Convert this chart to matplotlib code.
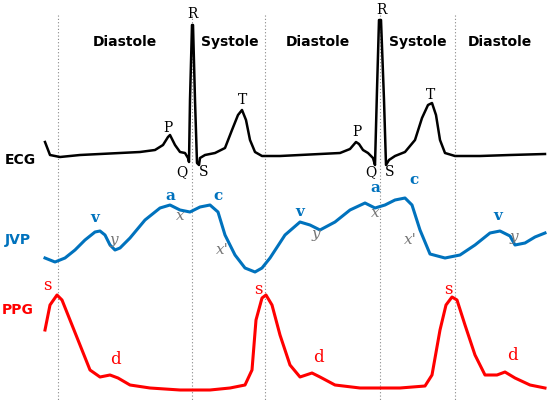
import matplotlib
matplotlib.use("Agg")
import matplotlib.pyplot as plt

# Waveform traces (x in px, y in px from top)
ecg_x = [45,50,60,80,100,120,140,155,163,168,170,175,180,185,188,189,190,192,193,195,197,199,200,205,215,225,232,238,242,246,250,255,262,280,300,320,340,350,356,359,363,368,373,375,377,379,381,384,386,389,395,405,415,422,428,432,436,440,445,455,480,510,545]
ecg_y = [142,155,157,155,154,153,152,150,145,137,135,145,152,153,158,162,100,25,25,100,163,165,158,155,153,148,130,115,110,120,140,152,156,156,155,154,153,149,142,144,150,153,158,165,90,20,20,100,165,160,156,152,140,118,105,103,115,140,153,156,156,155,154]
jvp_x = [45,55,65,75,85,95,100,105,110,115,120,130,145,160,170,180,190,200,210,218,225,235,245,255,262,270,285,300,310,320,335,350,365,375,385,395,405,412,420,430,445,460,475,490,500,510,515,525,535,545]
jvp_y = [258,262,258,250,240,232,231,235,245,250,248,238,220,208,205,210,212,207,205,212,235,255,268,272,268,258,235,222,225,230,222,210,203,208,205,200,198,205,230,254,258,255,245,233,231,236,245,243,237,233]
ppg_x = [45,50,57,62,70,80,90,100,110,118,130,150,180,210,230,245,252,256,262,266,272,280,290,300,312,320,335,360,400,425,432,440,446,452,457,465,475,485,497,505,515,530,545]
ppg_y = [330,305,295,300,320,345,370,377,375,378,385,388,390,390,388,385,370,320,298,295,305,335,365,377,373,377,385,388,388,386,375,330,305,297,300,325,355,375,375,372,378,385,388]

phase_lines = [58, 192, 265, 380, 455]
phases = ["Diastole", "Systole", "Diastole", "Systole", "Diastole"]
phase_x = [125, 230, 318, 418, 500]

ecg_labels = [("P",168,128),("Q",182,172),("R",192,14),("S",204,172),("T",243,100),
              ("P",357,132),("Q",371,172),("R",381,10),("S",390,172),("T",431,95)]
jvp_labels = [("v",95,218,"b"),("y",114,240,"g"),("a",170,196,"b"),("x",180,216,"g"),("c",218,196,"b"),("x'",222,250,"g"),
              ("v",300,212,"b"),("y",316,234,"g"),("a",375,188,"b"),("x",375,213,"g"),("c",414,180,"b"),("x'",410,240,"g"),
              ("v",498,216,"b"),("y",514,237,"g")]
ppg_labels = [("s",47,285),("d",115,360),("s",258,290),("d",318,358),("s",448,290),("d",512,356)]

BLUE = "#0072bd"; RED = "#ff0000"; GRAY = "#777777"

fig = plt.figure(figsize=(5.5,4.12), dpi=100)
ax = fig.add_axes([0,0,1,1])
ax.set_xlim(0,550); ax.set_ylim(412,0); ax.axis("off")

for x in phase_lines:
    ax.plot([x,x],[15,400], color="#888888", lw=0.8, ls=(0,(1,2)))
for t,x in zip(phases, phase_x):
    ax.text(x,42,t,ha="center",va="center",fontsize=10,fontweight="bold")

ax.plot(ecg_x, ecg_y, color="black", lw=1.8)
ax.plot(jvp_x, jvp_y, color=BLUE, lw=2.2)
ax.plot(ppg_x, ppg_y, color=RED, lw=2.2)

for t,x,y in ecg_labels:
    ax.text(x,y,t,ha="center",va="center",fontsize=10,family="DejaVu Serif")
for t,x,y,c in jvp_labels:
    if c=="b":
        ax.text(x,y,t,ha="center",va="center",fontsize=11,family="DejaVu Serif",color=BLUE,fontweight="bold")
    else:
        ax.text(x,y,t,ha="center",va="center",fontsize=11,family="DejaVu Serif",color=GRAY,style="italic")
for t,x,y in ppg_labels:
    ax.text(x,y,t,ha="center",va="center",fontsize=12,family="DejaVu Serif",color=RED)

ax.text(20,160,"ECG",ha="center",va="center",fontsize=10,fontweight="bold")
ax.text(18,240,"JVP",ha="center",va="center",fontsize=10,fontweight="bold",color=BLUE)
ax.text(18,310,"PPG",ha="center",va="center",fontsize=10,fontweight="bold",color=RED)

fig.savefig("out.png", dpi=100)
